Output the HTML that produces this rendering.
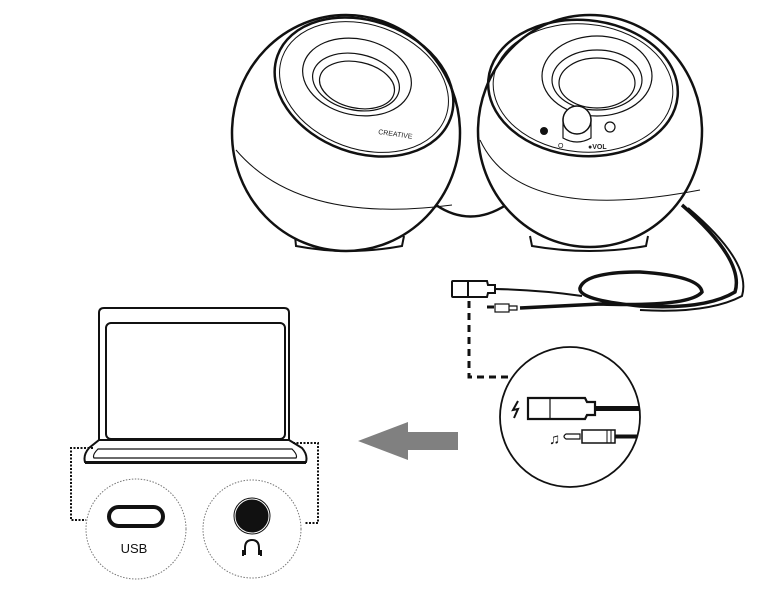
<!DOCTYPE html>
<html><head><meta charset="utf-8"><style>html,body{margin:0;padding:0;background:#fff}svg{display:block}</style></head>
<body>
<svg width="760" height="598" viewBox="0 0 760 598" xmlns="http://www.w3.org/2000/svg" font-family="Liberation Sans, sans-serif">
<g fill="none" stroke="#111" stroke-width="2">
<path d="M436 205 Q470 228 506 205" stroke-width="2.5"/>
<path d="M295 236 L296 246 Q348 256 402 246 L404 236" fill="#fff"/>
<ellipse cx="346" cy="133" rx="114" ry="118" fill="#fff" stroke-width="2.5"/>
<path d="M236 150 Q300 225 452 205" stroke-width="1"/>
<ellipse cx="364" cy="87" rx="92" ry="66" transform="rotate(20 364 87)" stroke-width="2.5"/>
<ellipse cx="364" cy="87" rx="87" ry="62" transform="rotate(20 364 87)" stroke-width="1"/>
<ellipse cx="357" cy="77" rx="55" ry="38" transform="rotate(12 357 77)" stroke-width="1.2"/>
<ellipse cx="356" cy="82" rx="44" ry="28" transform="rotate(12 356 82)" stroke-width="1.2"/>
<ellipse cx="357" cy="85" rx="38" ry="23" transform="rotate(12 357 85)" stroke-width="1.2"/>
<path d="M530 236 L532 246 Q590 256 646 246 L648 236" fill="#fff"/>
<ellipse cx="590" cy="131" rx="112" ry="116" fill="#fff" stroke-width="2.5"/>
<path d="M480 140 Q520 225 700 190" stroke-width="1"/>
<ellipse cx="583" cy="88" rx="95" ry="68" transform="rotate(5 583 88)" stroke-width="2.5"/>
<ellipse cx="583" cy="88" rx="90" ry="64" transform="rotate(5 583 88)" stroke-width="1"/>
<ellipse cx="597" cy="76" rx="55" ry="40" stroke-width="1.2"/>
<ellipse cx="597" cy="80" rx="45" ry="30" stroke-width="1.2"/>
<ellipse cx="597" cy="83" rx="38" ry="25" stroke-width="1.2"/>
<path d="M563 118 L563 138 Q577 146 591 138 L591 118" fill="#fff" stroke-width="1.2"/>
<circle cx="577" cy="120" r="14" fill="#fff" stroke-width="1.5"/>
<circle cx="544" cy="131" r="3" fill="#111"/>
<circle cx="610" cy="127" r="5" stroke-width="1.2"/>
<path d="M682 205 Q745 260 735 292 Q705 310 640 306 Q578 300 580 288 Q585 272 640 272 Q700 276 702 292 Q690 307 600 304 L520 308" stroke-width="3.5"/>
<path d="M688 208 Q752 262 742 296 Q708 314 640 310" stroke-width="2"/>
<path d="M495 289 Q540 290 582 296" stroke-width="2"/>
<rect x="452" y="281" width="16" height="16" rx="1" fill="#fff"/>
<path d="M468 281 L487 281 L488 285 L495 285 L495 293 L488 293 L487 297 L468 297 Z" fill="#fff"/>
<path d="M487 307 L494 307" stroke-width="3"/>
<rect x="495" y="304" width="14" height="8" fill="#fff" stroke-width="1.2"/>
<path d="M509 306 L517 306 L517 310 L509 310" stroke-width="1.2"/>
<path d="M469 301 L469 377 L512 377" stroke-width="3" stroke-dasharray="7 5"/>
<circle cx="570" cy="417" r="70" fill="#fff" stroke-width="1.8"/>
<path d="M595 408.5 L639 408.5" stroke-width="5"/>
<path d="M528 398 L585 398 L587 402 L595 402 L595 415 L587 415 L585 419 L528 419 Z" fill="#fff" stroke-width="2.2"/>
<path d="M550 398 L550 419" stroke-width="1.2"/>
<path d="M518 401 L513 410 L518 409 L514 418" stroke-width="2"/>
<path d="M615 436.5 L637 436.5" stroke-width="4"/>
<rect x="582" y="430" width="33" height="13" fill="#fff" stroke-width="1.5"/>
<path d="M580 434 L566 434 Q562 436.5 566 439 L580 439 Z" fill="#fff" stroke-width="1.2"/>
<path d="M607 430 L607 443 M611 430 L611 443" stroke-width="1"/>
<path d="M99 445 L99 313 Q99 308 104 308 L284 308 Q289 308 289 313 L289 445" fill="#fff"/>
<rect x="106" y="323" width="179" height="116" rx="5"/>
<path d="M99 440 L289 440 L302 448 Q308 455 306 462 L85 462 Q83 455 89 448 Z" fill="#fff"/>
<path d="M98 449 L292 449 Q298 455 296 458 L94 458 Q92 455 98 449 Z" stroke-width="1.2"/>
<path d="M85 463 L306 463" stroke-width="2"/>
<path d="M93 448 L71 448 L71 520 L86 520" stroke-width="2" stroke-dasharray="2 1.5"/>
<path d="M293 443 L318 443 L318 523 L304 523" stroke-width="2" stroke-dasharray="2 1.5"/>
<circle cx="136" cy="529" r="50" stroke-width="1" stroke-dasharray="1.5 1.5" stroke="#777"/>
<circle cx="252" cy="529" r="49" stroke-width="1" stroke-dasharray="1.5 1.5" stroke="#777"/>
<rect x="109" y="507" width="54" height="19" rx="9.5" stroke-width="4"/>
<circle cx="252" cy="516" r="18" stroke-width="1"/>
<circle cx="252" cy="516" r="15.5" fill="#111"/>
<path d="M245 555 L245 548 Q245 540 252 540 Q259 540 259 548 L259 555 M243 550 L243 556 M261 550 L261 556" stroke-width="2"/>
</g>
<path d="M358 441 L408 422 L408 432 L458 432 L458 450 L408 450 L408 460 Z" fill="#808080"/>
<text x="378" y="134" font-size="7" transform="rotate(8 378 134)" fill="#222">CREATIVE</text>
<text x="558" y="148" font-size="7" fill="#222">O</text>
<text x="588" y="149" font-size="7" font-weight="bold" fill="#222">●VOL</text>
<text x="549" y="444" font-size="15" font-weight="bold" fill="#111">♫</text>
<text x="134" y="553" font-size="13" text-anchor="middle" fill="#111">USB</text>
</svg>
</body></html>
